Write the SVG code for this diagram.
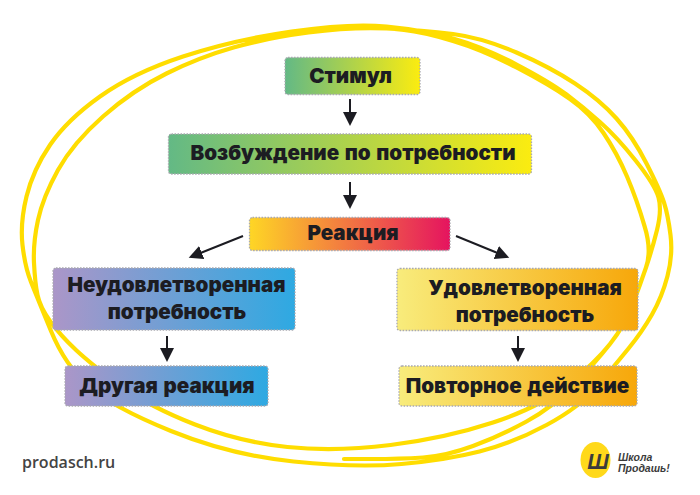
<svg xmlns="http://www.w3.org/2000/svg" width="700" height="495" viewBox="0 0 700 495">
<style>
.box{stroke:#a9a9b0;stroke-width:1.3;stroke-dasharray:1.6 1.4}
.t{font-family:"Inter","Liberation Sans",sans-serif;font-weight:900;font-size:20.6px;word-spacing:1.5px;fill:#1c1c22;text-anchor:middle}
.a{stroke:#1c1c22;stroke-width:2;fill:none;marker-end:url(#ah)}
.ring{fill:none;stroke:#ffdd00;stroke-width:4.2;stroke-linecap:round;stroke-linejoin:round}
.l{font-family:"Liberation Sans",sans-serif;font-weight:700;font-style:italic;font-size:10.5px;fill:#3b3b3b}
</style>
<defs>
<marker id="ah" markerUnits="userSpaceOnUse" markerWidth="15" markerHeight="15" refX="4" refY="7" orient="auto"><path d="M0,0L14,7L0,14z" fill="#1c1c22"/></marker>
<linearGradient id="gy"><stop offset="0" stop-color="#63b985"/><stop offset="1" stop-color="#fbec10"/></linearGradient>
<linearGradient id="yr"><stop offset="0" stop-color="#fed625"/><stop offset="1" stop-color="#e5145f"/></linearGradient>
<linearGradient id="pb"><stop offset="0" stop-color="#ab96c8"/><stop offset="1" stop-color="#2ea9e2"/></linearGradient>
<linearGradient id="yo"><stop offset="0" stop-color="#f8ec7c"/><stop offset="1" stop-color="#f7a70a"/></linearGradient>
</defs>
<rect width="700" height="495" fill="#fff"/>
<path id="scribble" class="ring" d="M344,459 L372,459 Q400,459 423,457.500 Q446,456 473,446 Q500,436 526.500,421.500 Q553,407 574,385 Q595,363 610,344 Q625,325 632.500,305 Q640,285 646,267.500 Q652,250 657,230 Q662,210 658.500,197.500 Q655,185 636,161 Q617,137 600,122 Q583,107 566.500,94.500 Q550,82 516.500,64.500 Q483,47 453,38.500 Q423,30 386.500,26.500 Q350,23 291.500,31.500 Q233,40 183,56.500 Q133,73 100,96.500 Q67,120 50,145 Q33,170 26.500,196.500 Q20,223 22.500,245 Q25,267 31,282 Q37,297 51,331 Q65,365 88.500,386 Q112,407 171,431 Q230,455 293.500,461.500 Q357,468 401.500,464 Q446,460 479.500,451.500 Q513,443 546.500,425 Q580,407 597.500,386 Q615,365 628.500,348.500 Q642,332 652,314.500 Q662,297 667.500,276 Q673,255 670.500,235 Q668,215 664,202.500 Q660,190 646.500,163.500 Q633,137 616.500,118.500 Q600,100 575,83.500 Q550,67 516.500,52.500 Q483,38 453,34 Q423,30 386.500,28.500 Q350,27 308.500,32.500 Q267,38 233.500,47.500 Q200,57 166.500,73.500 Q133,90 103,116.500 Q73,143 58,170 Q43,197 38,220 Q33,243 34,263 Q35,283 37.500,295 Q40,307 50,321 Q60,335 76,350 Q92,365 121,386 Q150,407 195,424.500 Q240,442 287.500,447 Q335,452 390.500,445 Q446,438 493,422.500 Q540,407 567.500,385 Q595,363 610,344 Q625,325 632.500,305 Q640,285 646,267.500 Q652,250 644.500,226 Q637,200 627,176.500 Q617,153 603.500,133 Q590,113 570,99 Q550,85 516.500,67.500 Q483,50 453,41 Q423,32 404,30 L385,28"/>
<g id="connectors">
<path class="a" d="M350,99V116"/>
<path class="a" d="M350,182V199"/>
<path class="a" d="M243,236L198,254"/>
<path class="a" d="M456,236L500,254"/>
<path class="a" d="M167,336V352"/>
<path class="a" d="M518,336V352"/>
</g>
<g id="n1"><rect class="box" x="285" y="57.500" width="135" height="37" rx="3" fill="url(#gy)"/><text class="t" x="350.500" y="83">Стимул</text></g>
<g id="n2"><rect class="box" x="168.500" y="134" width="363" height="40" rx="3" fill="url(#gy)"/><text class="t" x="353" y="160">Возбуждение по потребности</text></g>
<g id="n3"><rect class="box" x="249.500" y="217.500" width="200.500" height="33" rx="3" fill="url(#yr)"/><text class="t" x="353" y="240">Реакция</text></g>
<g id="n4"><rect class="box" x="53" y="268" width="242" height="62" rx="3" fill="url(#pb)"/><text class="t" x="176.500" y="292">Неудовлетворенная</text><text class="t" x="177" y="319">потребность</text></g>
<g id="n5"><rect class="box" x="65" y="366" width="203" height="40" rx="3" fill="url(#pb)"/><text class="t" x="167" y="393">Другая реакция</text></g>
<g id="n6"><rect class="box" x="397" y="268.500" width="241" height="62" rx="3" fill="url(#yo)"/><text class="t" x="525" y="295">Удовлетворенная</text><text class="t" x="525" y="322">потребность</text></g>
<g id="n7"><rect class="box" x="399" y="366" width="238" height="40" rx="3" fill="url(#yo)"/><text class="t" x="517.500" y="392.500">Повторное действие</text></g>
<text x="22" y="468" font-family="Open Sans,sans-serif" font-weight="600" font-size="16" fill="#444">prodasch.ru</text>
<g id="logo"><ellipse cx="595.500" cy="460" rx="15" ry="18" fill="#ffd91a"/><text x="598" y="469" font-family="Liberation Sans,sans-serif" font-weight="700" font-style="italic" font-size="22" fill="#3b3b3b" text-anchor="middle">Ш</text>
<text class="l" x="618" y="461">Школа</text>
<text class="l" x="618" y="471.500">Продашь!</text></g>
</svg>
